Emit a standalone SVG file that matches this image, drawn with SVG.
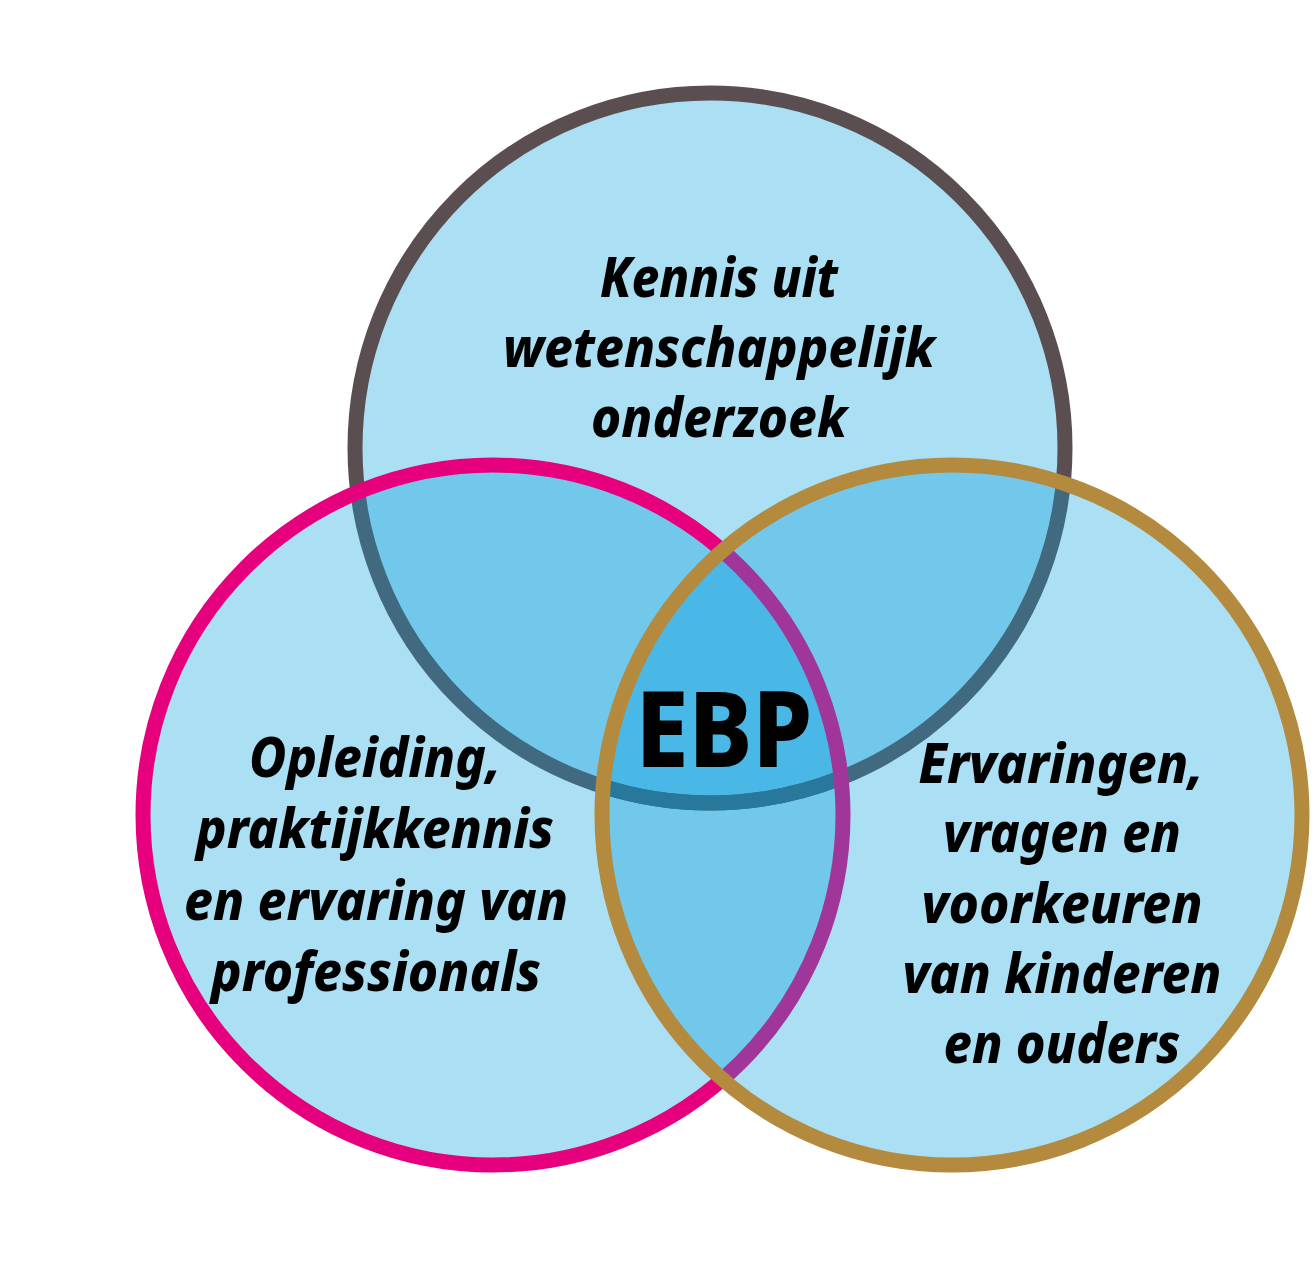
<svg xmlns="http://www.w3.org/2000/svg" xmlns:xlink="http://www.w3.org/1999/xlink" width="1316" height="1280" viewBox="0 0 1316 1280">
<defs>
<style>
.f1{fill:#abdff4}
.f2{fill:#72c8eb}
.f3{fill:#4ab8e6}
.st{fill:none;stroke-width:15}
.lbl{font-family:"Noto Sans","Open Sans","Liberation Sans",sans-serif;font-weight:800;font-style:italic;font-size:55px;fill:#000;text-anchor:middle}
.ebp{font-family:"Noto Sans","Open Sans","Liberation Sans",sans-serif;font-weight:800;font-size:106px;fill:#000;text-anchor:middle}
</style>
<circle id="cT" cx="710" cy="448" r="355"/>
<circle id="cL" cx="493" cy="815" r="350"/>
<circle id="cR" cx="952" cy="815" r="350"/>
<clipPath id="clipT"><circle cx="710" cy="448" r="355"/></clipPath>
<clipPath id="clipL"><circle cx="493" cy="815" r="350"/></clipPath>
<clipPath id="clipR"><circle cx="952" cy="815" r="350"/></clipPath>
</defs>
<rect width="1316" height="1280" fill="#fff"/>

<g id="node-top">
<use xlink:href="#cT" class="f1"/>
<use xlink:href="#cT" class="st" stroke="#5b4e51"/>
<g class="lbl">
<text x="719" y="297" textLength="238" lengthAdjust="spacingAndGlyphs">Kennis uit</text>
<text x="719" y="367" textLength="432" lengthAdjust="spacingAndGlyphs">wetenschappelijk</text>
<text x="719" y="437" textLength="256" lengthAdjust="spacingAndGlyphs">onderzoek</text>
</g>
</g>

<g id="node-left">
<use xlink:href="#cL" class="f1"/>
<g clip-path="url(#clipT)"><use xlink:href="#cL" class="f2"/></g>
<g clip-path="url(#clipL)"><use xlink:href="#cT" class="st" stroke="#416a80"/></g>
<use xlink:href="#cL" class="st" stroke="#e6007e"/>
<g class="lbl">
<text x="375" y="777" textLength="252" lengthAdjust="spacingAndGlyphs">Opleiding,</text>
<text x="375" y="848" textLength="358" lengthAdjust="spacingAndGlyphs">praktijkkennis</text>
<text x="376" y="920" textLength="384" lengthAdjust="spacingAndGlyphs">en ervaring van</text>
<text x="376" y="991" textLength="330" lengthAdjust="spacingAndGlyphs">professionals</text>
</g>
</g>

<g id="node-right">
<use xlink:href="#cR" class="f1"/>
<g clip-path="url(#clipT)"><use xlink:href="#cR" class="f2"/></g>
<g clip-path="url(#clipL)"><use xlink:href="#cR" class="f2"/></g>
<g clip-path="url(#clipT)"><g clip-path="url(#clipL)"><use xlink:href="#cR" class="f3"/></g></g>
<g clip-path="url(#clipR)"><use xlink:href="#cT" class="st" stroke="#416a80"/></g>
<g clip-path="url(#clipR)"><g clip-path="url(#clipL)"><use xlink:href="#cT" class="st" stroke="#27789a"/></g></g>
<g clip-path="url(#clipR)"><use xlink:href="#cL" class="st" stroke="#a0369a"/></g>
<use xlink:href="#cR" class="st" stroke="#b38a3e"/>
<g class="lbl">
<text x="1061" y="783" textLength="285" lengthAdjust="spacingAndGlyphs">Ervaringen,</text>
<text x="1062" y="852" textLength="238" lengthAdjust="spacingAndGlyphs">vragen en</text>
<text x="1062" y="923" textLength="281" lengthAdjust="spacingAndGlyphs">voorkeuren</text>
<text x="1062" y="993" textLength="319" lengthAdjust="spacingAndGlyphs">van kinderen</text>
<text x="1062" y="1063" textLength="237" lengthAdjust="spacingAndGlyphs">en ouders</text>
</g>
</g>

<g id="node-center">
<text class="ebp" x="724" y="767" textLength="177" lengthAdjust="spacingAndGlyphs">EBP</text>
</g>
</svg>
